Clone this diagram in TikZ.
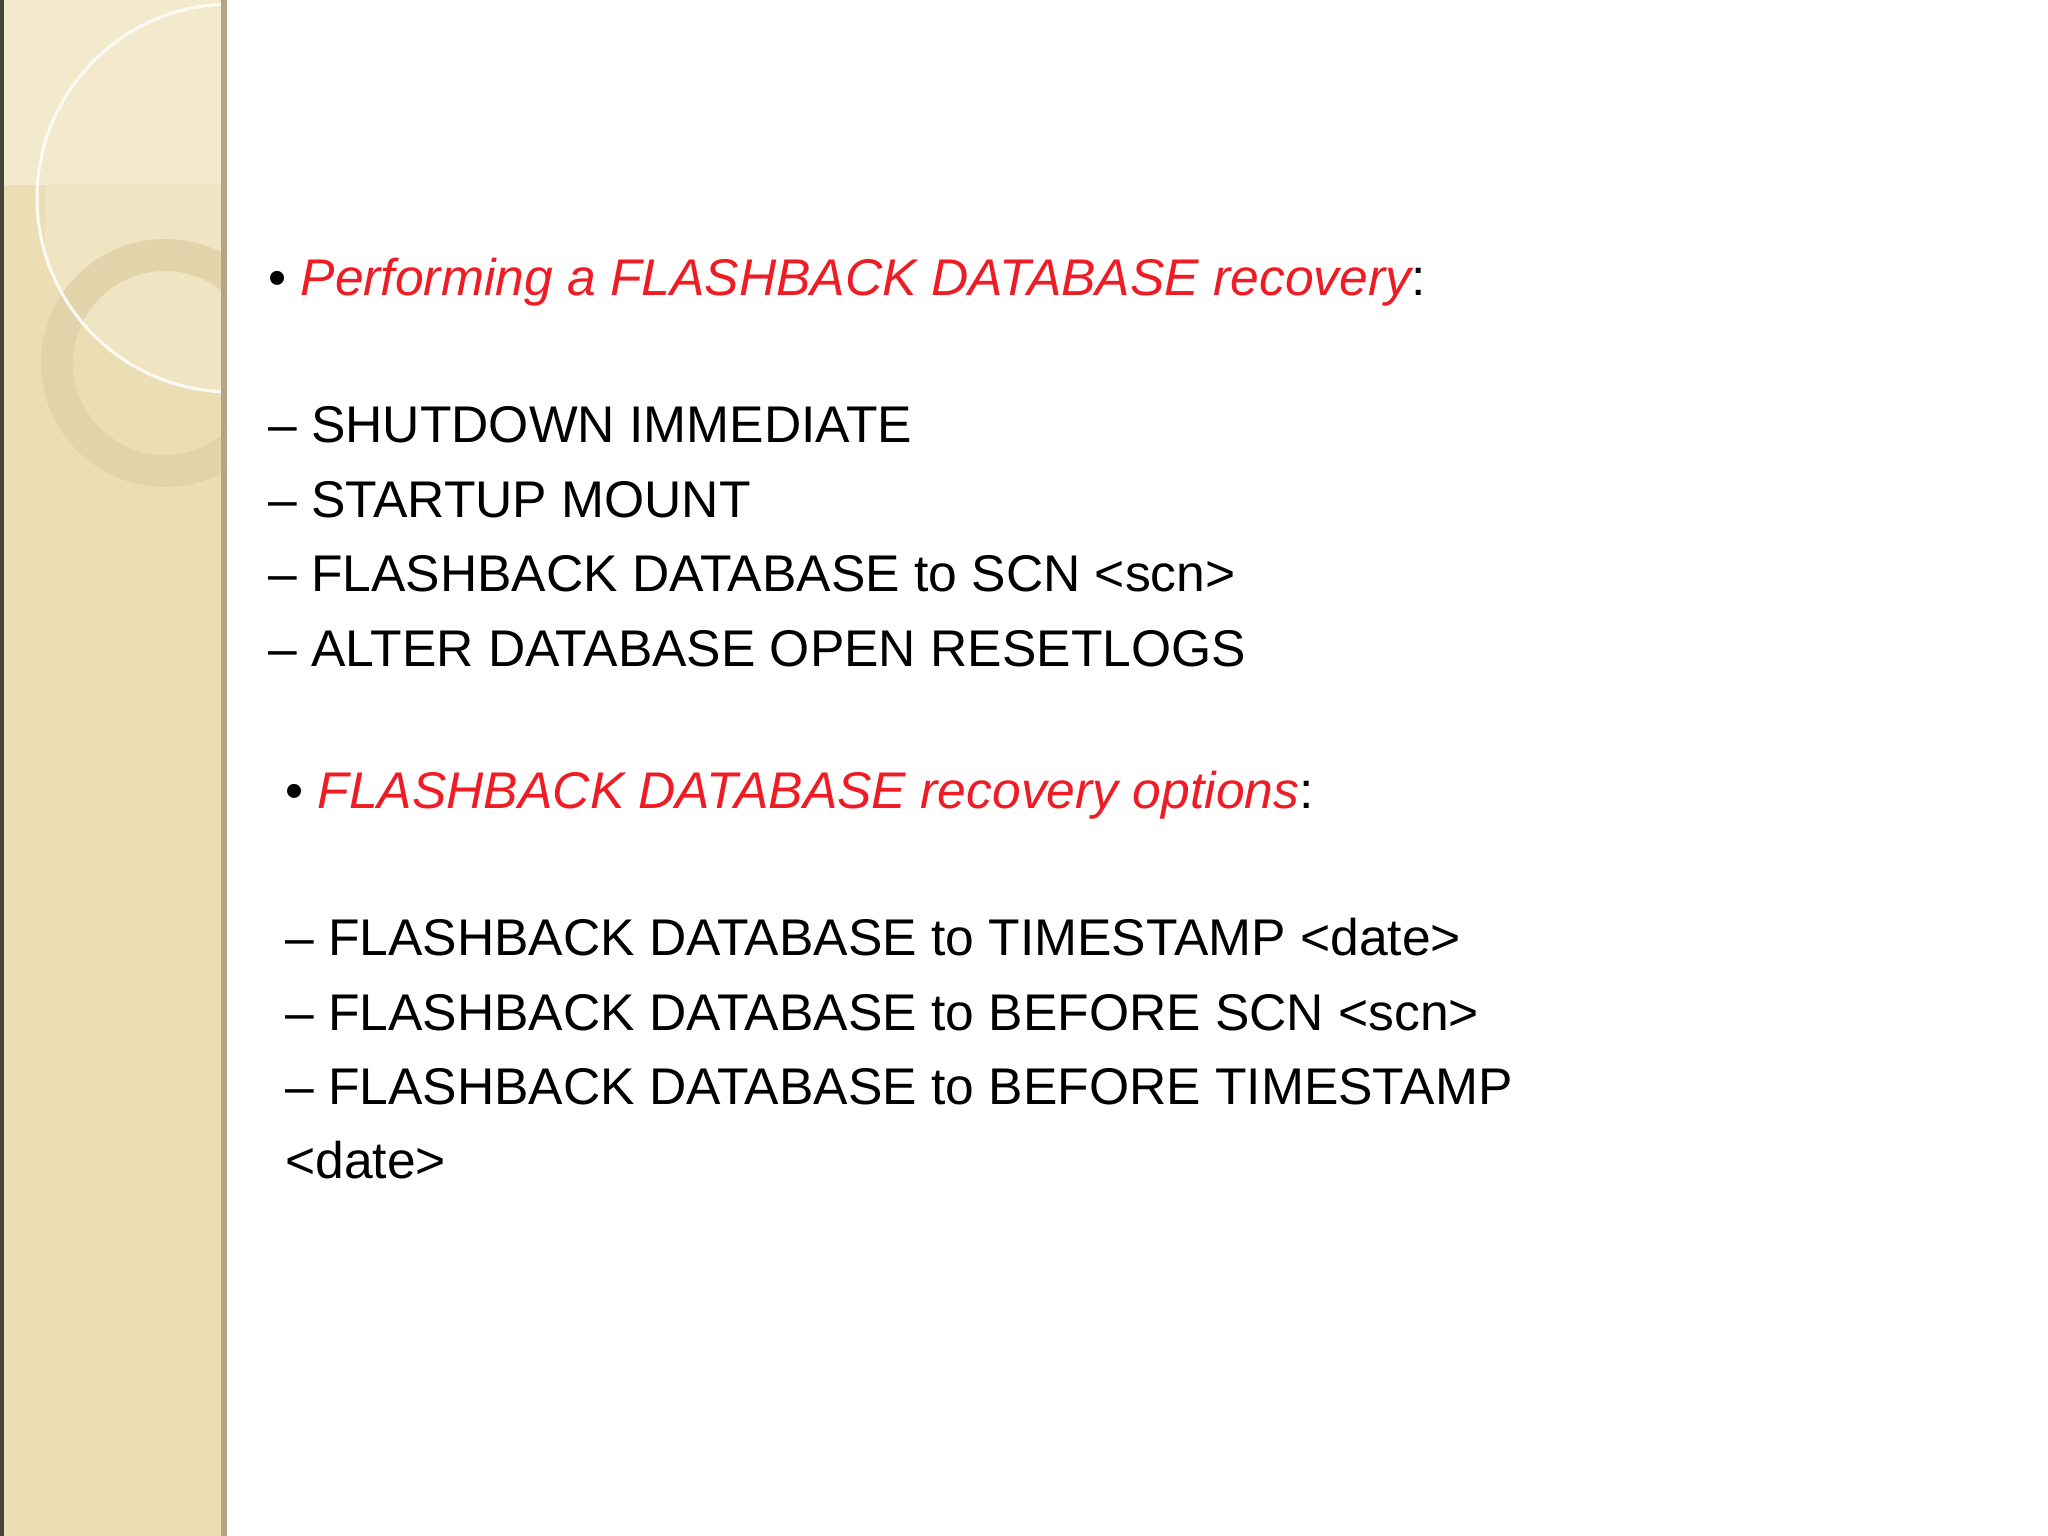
\documentclass[tikz,border=0pt]{standalone}
\usepackage{fontspec}
\setmainfont{Liberation Sans}
\definecolor{strip}{RGB}{236,222,180}
\definecolor{striplight}{RGB}{243,234,206}
\definecolor{ringc}{RGB}{226,212,170}
\definecolor{redt}{RGB}{238,28,36}
\begin{document}
\begin{tikzpicture}[x=1pt,y=-1pt,
  txt/.style={anchor=base west,inner sep=0pt,font=\fontsize{51.6}{60}\selectfont}]
\useasboundingbox (0,0) rectangle (2048,1536);
\fill[white] (0,0) rectangle (2048,1536);
\begin{scope}
\clip (0,0) rectangle (227,1536);
\fill[strip] (0,0) rectangle (227,1536);
\fill[striplight] (0,0) rectangle (227,185);
\fill[striplight,opacity=0.6] (231,198) circle (194);
\fill[strip] (0,185) rectangle (45,1536);
\draw[ringc,line width=32] (165,363) circle (108);
\draw[white!85!strip,line width=3] (231,198) circle (194);
\fill[black!70!strip] (0,0) rectangle (4,1536);
\fill[black!25!strip] (221,0) rectangle (227,1536);
\end{scope}
\node[txt] (h1) at (268,295) {•\ \textcolor{redt}{\itshape Performing a FLASHBACK DATABASE recovery}:};
\node[txt] (a1) at (268,442) {– SHUTDOWN IMMEDIATE};
\node[txt] (a2) at (268,517) {– STARTUP MOUNT};
\node[txt] (a3) at (268,591) {– FLASHBACK DATABASE to SCN <scn>};
\node[txt] (a4) at (268,666) {– ALTER DATABASE OPEN RESETLOGS};
\node[txt] (h2) at (285,808) {•\ \textcolor{redt}{\itshape FLASHBACK DATABASE recovery options}:};
\node[txt] (b1) at (285,955) {– FLASHBACK DATABASE to TIMESTAMP <date>};
\node[txt] (b2) at (285,1030) {– FLASHBACK DATABASE to BEFORE SCN <scn>};
\node[txt] (b3) at (285,1104) {– FLASHBACK DATABASE to BEFORE TIMESTAMP};
\node[txt] (b4) at (285,1178) {<date>};
\end{tikzpicture}
\end{document}
